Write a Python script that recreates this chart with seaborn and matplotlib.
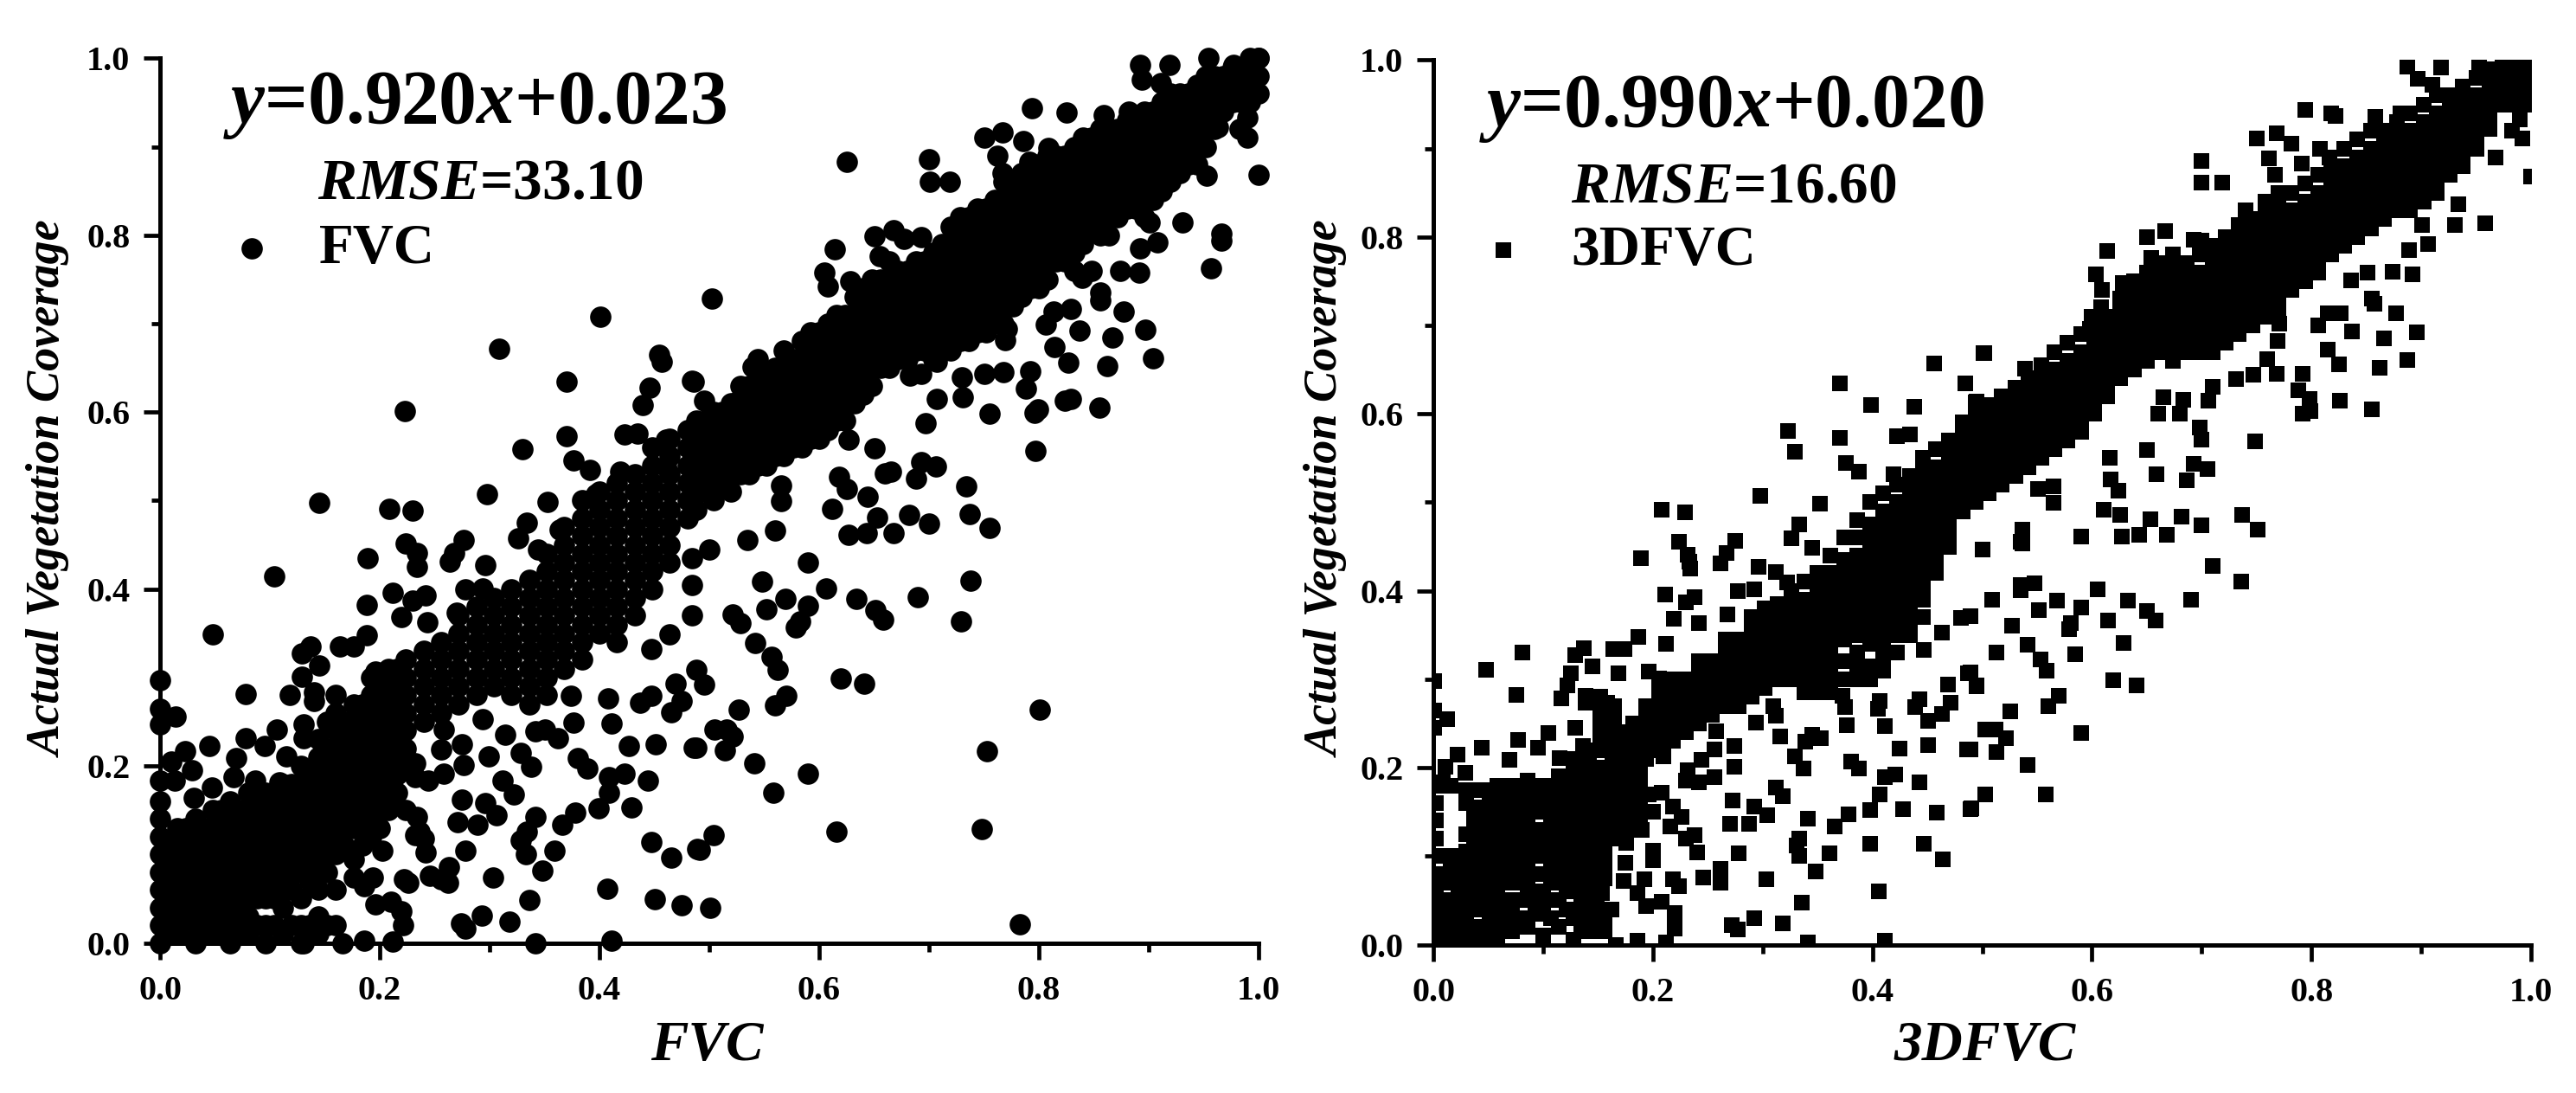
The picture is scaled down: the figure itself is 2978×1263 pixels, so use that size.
import matplotlib
matplotlib.use("Agg")
import matplotlib.pyplot as plt
import pandas as pd
import seaborn as sns
from matplotlib.ticker import FixedLocator, FormatStrFormatter

# ---- FVC panel, values
fvc_scattered_top = [
    (.401,.708),(.309,.672),(.454,.665),(.457,.657),(.370,.634),(.446,.628),(.439,.608),(.486,.634),(.223,.601),
    (.370,.573),(.330,.558),(.423,.575),(.435,.576),(.376,.545),(.391,.535),(.419,.533),(.461,.569),(.461,.539),
    (.145,.497),(.209,.491),(.230,.489),(.298,.507),(.353,.498),(.334,.475),(.326,.457),(.224,.451),(.234,.441),
    (.276,.455),(.268,.441),(.189,.435),(.344,.445),(.364,.467),(.397,.507),
]
fvc_scattered_left = [
    (.104,.414),(.234,.425),(.264,.431),(.296,.427),(.212,.396),(.242,.393),(.230,.387),(.278,.400),(.294,.401),
    (.188,.382),(.220,.368),(.243,.362),(.270,.373),(.188,.348),(.176,.335),(.164,.335),(.048,.349),(.137,.335),
    (.129,.327),(.145,.314),(.129,.301),(0,.297),(.078,.281),(.118,.280),(.140,.283),(.140,.273),(0,.265),
    (.014,.256),(0,.247),(.196,.307),(0,.183),(.023,.217),(.029,.195),(.045,.223),(.069,.209),(.078,.231),
    (.095,.223),(.106,.241),(.115,.211),(.131,.247),(.131,.231),(.013,.183),(.031,.164),(.047,.176),(.067,.187),
    (.087,.183),(.109,.181),(.010,.205),
]
fvc_scattered_mid = [
    (.408,.276),(.411,.248),(.427,.223),(.451,.225),(.488,.221),(.447,.332),(.464,.349),(.469,.293),(.437,.271),
    (.447,.279),(.465,.261),(.475,.273),(.376,.249),(.374,.279),(.294,.253),(.314,.235),(.258,.241),(.342,.239),
    (.362,.231),(.350,.241),(.328,.215),(.338,.199),(.380,.209),(.389,.197),(.299,.211),(.275,.225),(.276,.201),
    (.256,.219),(.232,.203),(.258,.191),(.232,.187),(.244,.183),(.312,.183),(.322,.168),(.409,.187),(.423,.191),
    (.409,.170),(.444,.183),(.399,.152),(.429,.153),(.378,.147),(.366,.134),(.342,.142),(.334,.126),(.328,.116),
    (.333,.100),(.359,.104),(.348,.082),(.447,.114),(.465,.096),(.489,.106),(.275,.162),(.296,.158),(.306,.144),
    (.289,.134),(.271,.136),(.278,.104),(.303,.074),
]
fvc_scattered_low = [
    (.407,.061),(.336,.048),(.450,.049),(.475,.043),(.293,.031),(.274,.022),(.278,.016),(.318,.024),(.342,0),
    (.411,.002),(.202,.104),(.222,.072),(.226,.068),(.246,.076),(.263,.086),(.262,.068),(.256,.072),(.242,.102),
    (.240,.118),(.232,.122),(.224,.150),(.210,.160),(.208,.174),(.234,.142),(.236,.126),(.176,.094),(.176,.074),
    (.186,.064),(.194,.074),(.196,.044),(.210,.046),(.220,.036),(.221,.020),(.166,0),(.186,.002),(.212,.001),(.131,0),
]
fvc_scattered_upper = [
    (1.0,1.0),(.954,1.0),(.919,.992),(.892,.992),(.977,.992),(.894,.976),(.911,.972),(.794,.944),(.825,.939),
    (.859,.936),(.882,.940),(.750,.910),(.767,.916),(.786,.906),(.762,.890),(.791,.883),(.767,.870),(.809,.899),
    (.625,.883),(.700,.886),(.701,.860),(.719,.860),(1.0,.868),(.990,.933),(.990,.910),(.983,.920),(.963,.922),
    (.953,.867),(.931,.814),(.966,.802),(.966,.794),(.957,.763),(.908,.792),(.892,.785),(.901,.814),(.874,.760),
    (.891,.758),(.839,.752),(.848,.760),(.856,.726),(.856,.735),(.877,.714),(.829,.717),(.813,.714),(.806,.699),
    (.837,.692),(.867,.684),(.897,.693),(.904,.661),(.814,.674),(.827,.656),(.862,.652),(.771,.694),(.769,.681),
    (.792,.646),(.788,.627),(.768,.645),(.750,.643),(.730,.639),(.731,.617),(.829,.615),(.824,.613),(.855,.605),
    (.799,.603),(.796,.599),(.755,.598),(.707,.615),(.797,.556),(.697,.587),(.683,.641),(.693,.643),(.707,.657),
]
fvc_scattered_lower = [
    (.627,.569),(.650,.559),(.660,.531),(.665,.533),(.693,.543),(.706,.539),(.688,.525),(.734,.516),(.737,.485),
    (.755,.469),(.618,.527),(.625,.513),(.644,.504),(.612,.491),(.653,.481),(.682,.484),(.700,.474),(.668,.463),
    (.643,.463),(.627,.461),(.560,.466),(.535,.455),(.565,.499),(.565,.517),(.495,.613),(.484,.635),(.527,.613),
    (.502,.728),(.614,.784),(.605,.758),(.608,.742),(.628,.748),(.650,.799),(.668,.806),(.677,.796),(.693,.798),
    (.655,.776),(.539,.651),(.500,.445),(.484,.435),(.590,.430),(.548,.408),(.484,.405),(.606,.401),(.569,.389),
    (.552,.377),(.590,.381),(.634,.389),(.690,.391),(.738,.409),(.651,.376),(.658,.365),(.729,.363),(.521,.371),
    (.528,.361),(.484,.370),(.583,.363),(.579,.357),(.542,.339),(.557,.323),(.562,.309),(.620,.299),(.641,.293),
    (.488,.309),(.495,.292),(.570,.279),(.560,.269),(.527,.264),(.801,.264),(.505,.241),(.516,.241),(.521,.233),
    (.486,.221),(.514,.218),(.753,.217),(.541,.203),(.590,.191),(.558,.170),(.504,.122),(.491,.105),(.616,.126),
    (.748,.129),(.501,.040),(.783,.021),
]
fvc_low_block = [
    (.000,[0,.02,.04,.06,.08,.10,.12,.14,.16]),
    (.016,[.01,.03,.05,.07,.09,.11,.13]),
    (.032,[0,.02,.04,.06,.08,.10,.12,.14]),
    (.048,[.01,.03,.05,.07,.09,.11,.13,.15]),
    (.064,[0,.02,.04,.06,.08,.10,.12,.14,.16]),
    (.080,[.01,.03,.05,.07,.09,.11,.13,.15,.17]),
    (.096,[0,.02,.05,.07,.09,.11,.13,.15,.17]),
    (.112,[.01,.04,.06,.08,.10,.12,.14,.16,.18]),
    (.128,[0,.02,.05,.08,.10,.12,.14,.16,.18,.20]),
    (.144,[.01,.03,.06,.08,.09,.11,.13,.15,.17,.19,.21,.23]),
]
fvc_low_fill = [
    (.008,[.01,.03,.05,.07,.09,.11]),
    (.024,[.01,.03,.05,.07,.09,.11,.13]),
    (.040,[.01,.03,.05,.07,.09,.11,.13]),
    (.056,[.01,.03,.05,.07,.09,.11,.13,.15]),
    (.072,[.01,.03,.05,.07,.09,.11,.13,.15]),
    (.088,[.02,.05,.07,.09,.11,.13,.15,.17]),
    (.104,[.02,.05,.07,.09,.11,.13,.15,.17]),
    (.120,[.02,.06,.08,.10,.12,.14,.16,.18]),
    (.136,[.02,.07,.09,.11,.13,.15,.17,.19]),
    (.152,[.02,.08,.10,.12,.14,.16,.18,.20,.22,.25]),
    (.168,[.11,.13,.15,.17,.19,.21,.23,.25]),
    (.184,[.11,.13,.15,.17,.19,.21,.23,.25,.27]),
    (.200,[.13,.15,.17,.19,.21,.23,.25,.27,.29]),
    (.216,[.17,.19,.21,.23,.25,.27,.29,.31]),
]
fvc_band_fill = [
    (.488,[.49,.51,.53,.55,.57,.59]),
    (.504,[.50,.52,.54,.56,.58,.60]),
    (.520,[.51,.53,.55,.57,.59,.61]),
    (.536,[.53,.55,.57,.59,.61,.63]),
    (.552,[.54,.56,.58,.60,.62,.64]),
    (.568,[.55,.57,.59,.61,.63,.65,.67]),
    (.584,[.56,.58,.60,.62,.64,.66,.68]),
    (.600,[.57,.59,.61,.63,.65,.67,.69]),
    (.616,[.59,.61,.63,.65,.67,.69,.71]),
    (.632,[.61,.63,.65,.67,.69,.71,.73]),
    (.648,[.63,.65,.67,.69,.71,.73,.75]),
    (.664,[.65,.67,.69,.71,.73,.75,.77]),
    (.680,[.66,.68,.70,.72,.74,.76]),
    (.696,[.67,.69,.71,.73,.75,.77]),
    (.712,[.67,.69,.71,.73,.75,.77,.79]),
    (.728,[.68,.70,.72,.74,.76,.78,.80,.82]),
    (.744,[.69,.71,.73,.75,.77,.79,.81,.83]),
    (.760,[.70,.72,.74,.76,.78,.80,.82,.84]),
    (.776,[.72,.74,.76,.78,.80,.82,.84,.86]),
    (.792,[.74,.76,.78,.80,.82,.84,.86,.88]),
    (.808,[.75,.77,.79,.81,.83,.85,.87,.89]),
    (.824,[.77,.79,.81,.83,.85,.87,.89]),
    (.840,[.79,.81,.83,.85,.87,.89,.91]),
    (.856,[.80,.82,.84,.86,.88,.90,.92]),
    (.872,[.82,.84,.86,.88,.90,.92]),
    (.888,[.83,.85,.87,.89,.91,.93]),
    (.904,[.84,.86,.88,.90,.92,.94]),
    (.920,[.86,.88,.90,.92,.94,.96]),
    (.936,[.88,.90,.92,.94,.96]),
    (.952,[.90,.92,.94,.96,.98]),
    (.968,[.94,.96,.98]),
    (.984,[.95,.97,.99]),
]
fvc_band = [
    (.160,[.02,.06,.10,.12,.14,.16,.18,.20,.22,.24,.26,.28]),
    (.176,[.13,.15,.17,.19,.21,.23,.25,.27]),
    (.192,[.12,.14,.16,.18,.20,.22,.24,.26,.28,.30]),
    (.208,[.15,.17,.19,.21,.23,.25,.27,.29,.31]),
    (.224,[.20,.22,.24,.26,.28,.30,.32]),
    (.240,[.25,.27,.29,.31,.33]),
    (.256,[.26,.28,.30,.32,.34]),
    (.272,[.27,.29,.31,.33,.35,.37]),
    (.288,[.28,.30,.32,.34,.36,.38]),
    (.304,[.29,.31,.33,.35,.37,.39]),
    (.320,[.28,.30,.32,.34,.36,.38,.40]),
    (.336,[.27,.29,.31,.33,.35,.37,.39,.41]),
    (.352,[.28,.30,.32,.34,.36,.38,.40,.42,.44]),
    (.368,[.31,.33,.35,.37,.39,.41,.43,.45,.47]),
    (.384,[.32,.34,.36,.38,.40,.42,.44,.46,.48,.50]),
    (.400,[.35,.37,.39,.41,.43,.45,.47,.49,.51]),
    (.416,[.34,.36,.38,.40,.42,.44,.46,.48,.50,.52]),
    (.432,[.37,.39,.41,.43,.45,.47,.49,.51,.53]),
    (.448,[.40,.42,.44,.46,.48,.50,.52,.54,.56]),
    (.464,[.43,.45,.47,.49,.51,.53,.55,.57]),
    (.480,[.48,.50,.52,.54,.56,.58]),
    (.496,[.51,.53,.55,.57,.59]),
    (.512,[.52,.54,.56,.58,.60]),
    (.528,[.53,.55,.57,.59,.61,.63]),
    (.544,[.54,.56,.58,.60,.62,.64,.66]),
    (.560,[.55,.57,.59,.61,.63,.65]),
    (.576,[.56,.58,.60,.62,.64,.66]),
    (.592,[.57,.59,.61,.63,.65,.67,.69]),
    (.608,[.58,.60,.62,.64,.66,.68,.70]),
    (.624,[.59,.61,.63,.65,.67,.69,.71]),
    (.640,[.62,.64,.66,.68,.70,.72,.74]),
    (.656,[.65,.67,.69,.71,.73,.75]),
    (.672,[.66,.68,.70,.72,.74,.76]),
    (.688,[.67,.69,.71,.73,.75,.77]),
    (.704,[.66,.68,.70,.72,.74,.76,.78]),
    (.720,[.67,.69,.71,.73,.75,.77,.79,.81]),
    (.736,[.68,.70,.72,.74,.76,.78,.80,.82]),
    (.752,[.69,.71,.73,.75,.77,.79,.81,.83]),
    (.768,[.70,.72,.74,.76,.78,.80,.82,.84,.86]),
    (.784,[.73,.75,.77,.79,.81,.83,.85,.87]),
    (.800,[.74,.76,.78,.80,.82,.84,.86,.88]),
    (.816,[.77,.79,.81,.83,.85,.87,.89]),
    (.832,[.76,.78,.80,.82,.84,.86,.88,.90]),
    (.848,[.81,.83,.85,.87,.89,.91]),
    (.864,[.80,.82,.84,.86,.88,.90,.92]),
    (.880,[.83,.85,.87,.89,.91,.93]),
    (.896,[.82,.84,.86,.88,.90,.92,.94]),
    (.912,[.85,.87,.89,.91,.93,.95]),
    (.928,[.87,.89,.91,.93,.95,.96]),
    (.944,[.88,.90,.92,.94,.96,.97]),
    (.960,[.92,.94,.96,.98]),
    (.976,[.95,.97,.99]),
    (.992,[.95,.97,.99,1.0]),
    (1.00,[.96,.98,1.0]),
]

# ---- 3DFVC panel
dfvc_scattered_top = [
    (.501,.669),(.456,.657),(.370,.634),(.485,.634),(.399,.610),(.438,.608),(.494,.613),(.323,.581),(.329,.557),
    (.370,.573),(.422,.575),(.434,.577),(.501,.583),(.376,.544),(.388,.535),(.419,.532),(.298,.507),(.208,.492),
    (.229,.489),(.352,.498),(.333,.475),(.326,.459),(.224,.455),(.232,.441),(.275,.456),(.267,.443),(.189,.437),
    (.345,.449),
]
dfvc_scattered_left = [
    (.233,.433),(.234,.425),(.262,.431),(.296,.427),(.312,.421),(.322,.409),(.211,.396),(.238,.393),(.230,.387),
    (.277,.400),(.292,.402),(.219,.368),(.242,.363),(.268,.373),(.212,.340),(.187,.348),(.174,.334),(.164,.334),
    (.081,.330),(.048,.311),(.137,.335),(.129,.327),(.145,.315),(.169,.307),(.125,.307),(.122,.293),(.076,.282),
    (.117,.278),(.139,.281),(.139,.273),(.196,.309),(.206,.301),(.001,.298),(.001,.265),(.013,.255),(.001,.245),
    (.077,.231),(.105,.239),(.095,.223),(.044,.223),(.022,.215),(.011,.201),(.069,.209),(.029,.194),(.009,.183),
    (.115,.211),(.129,.245),(.136,.225),(.158,.273),(.164,.253),(.154,.233),(.160,.263),(.158,.243),
]
dfvc_scattered_mid = [
    (.258,.241),(.294,.251),(.312,.259),(.310,.270),(.316,.235),(.345,.237),(.353,.233),(.339,.229),(.329,.213),
    (.337,.199),(.381,.207),(.388,.199),(.274,.225),(.256,.221),(.244,.209),(.274,.201),(.232,.197),(.256,.189),
    (.242,.183),(.230,.185),(.210,.213),(.411,.247),(.377,.248),(.425,.222),(.451,.226),(.486,.221),(.503,.243),
    (.373,.281),(.375,.269),(.407,.275),(.405,.267),(.443,.277),(.439,.269),(.471,.273),(.463,.261),(.451,.253),
    (.469,.294),(.487,.307),(.495,.293),(.447,.333),(.463,.353),(.481,.369),(.411,.189),(.421,.192),(.443,.183),
    (.407,.170),(.398,.152),(.428,.153),(.459,.149),(.490,.154),(.503,.170),(.378,.147),(.366,.134),(.341,.142),
    (.333,.120),(.331,.112),(.333,.100),(.361,.103),(.348,.083),(.398,.114),(.447,.114),(.464,.096),
]
dfvc_scattered_low = [
    (.406,.060),(.336,.047),(.318,.024),(.292,.030),(.272,.022),(.277,.017),(.341,.002),(.411,.004),(.166,0),
    (.186,.004),(.212,.002),(.273,.163),(.312,.178),(.318,.168),(.292,.156),(.304,.146),(.288,.136),(.270,.136),
    (.278,.103),(.303,.074),(.246,.076),(.262,.086),(.262,.070),(.200,.106),(.200,.095),(.175,.092),(.173,.072),
    (.192,.074),(.218,.074),(.224,.066),(.186,.058),(.194,.044),(.208,.048),(.220,.036),(.220,.018),(.220,.027),
    (.154,.058),(.162,.040),(.240,.104),(.230,.120),(.238,.124),(.226,.144),(.216,.134),(.208,.172),(.218,.156),
    (.196,.170),(.200,.150),(.180,.130),(.190,.130),(.170,.125),
]
dfvc_scattered_upper = [
    (.887,.993),(.918,.992),(.953,.997),(.897,.979),(.910,.972),(.794,.944),(.818,.940),(.822,.937),(.858,.936),
    (.881,.940),(.750,.911),(.768,.917),(.782,.905),(.761,.889),(.791,.883),(.767,.870),(.808,.900),(.816,.890),
    (.700,.886),(.700,.861),(.719,.861),(1.0,.868),(.990,.933),(.983,.920),(.992,.911),(.962,.922),(.968,.890),
    (.934,.837),(.931,.814),(.958,.815),(.901,.814),(.906,.792),(.889,.785),(.874,.761),(.892,.758),(.851,.760),
    (.836,.751),(.855,.730),(.857,.724),(.877,.714),(.896,.692),(.866,.685),(.887,.661),(.837,.693),(.806,.700),
    (.827,.714),(.815,.714),(.815,.673),(.825,.656),(.862,.652),(.771,.702),(.769,.682),(.760,.662),(.792,.645),
    (.768,.645),(.747,.644),(.731,.639),(.788,.627),(.798,.617),(.792,.600),(.799,.603),(.826,.615),(.855,.605),
    (.749,.569),(.710,.631),(.706,.615),(.698,.585),(.700,.571),(.683,.616),(.680,.600),(.665,.619),(.660,.600),
]
dfvc_scattered_lower = [
    (.650,.559),(.659,.532),(.693,.543),(.705,.538),(.686,.525),(.617,.526),(.624,.513),(.616,.550),(.611,.492),
    (.626,.486),(.653,.481),(.682,.484),(.700,.474),(.668,.463),(.643,.463),(.627,.461),(.737,.486),(.751,.469),
    (.590,.461),(.565,.518),(.565,.499),(.551,.515),(.535,.455),(.537,.469),(.502,.669),(.495,.614),(.526,.611),
    (.539,.651),(.614,.784),(.604,.758),(.628,.748),(.609,.740),(.608,.721),(.600,.710),(.598,.696),(.650,.800),
    (.667,.807),(.693,.797),(.700,.796),(.654,.776),(.670,.770),(.740,.830),(.758,.830),(.734,.814),(.500,.447),
    (.537,.453),(.710,.428),(.736,.410),(.535,.407),(.548,.408),(.535,.401),(.605,.402),(.509,.390),(.568,.389),
    (.552,.378),(.590,.381),(.633,.389),(.690,.390),(.650,.377),(.658,.366),(.615,.366),(.527,.361),(.581,.363),
    (.579,.357),(.489,.371),(.541,.339),(.513,.330),(.553,.322),(.559,.310),(.585,.328),(.629,.341),(.619,.299),
    (.641,.293),(.489,.308),(.495,.292),(.570,.281),(.560,.270),(.526,.264),(.503,.243),(.512,.243),(.522,.233),
    (.513,.218),(.489,.221),(.541,.203),(.590,.239),(.503,.170),(.558,.170),(.489,.153),
]
dfvc_low_block = [
    (.002,[.005,.02,.035,.05,.065,.08,.10,.12,.14,.16,.18]),
    (.016,[.005,.02,.035,.05,.07,.085,.10,.18]),
    (.030,[.01,.03,.045,.06,.075,.09,.105,.125,.16,.175]),
    (.044,[.005,.02,.04,.055,.07,.085,.105,.12,.14,.155,.175]),
    (.058,[.01,.03,.05,.065,.08,.095,.11,.13,.165,.18]),
    (.072,[.015,.035,.05,.07,.085,.10,.115,.135,.15,.165,.18]),
    (.086,[.02,.06,.075,.09,.105,.12,.14,.155,.17,.185]),
    (.100,[.01,.045,.06,.08,.10,.115,.13,.15,.165,.18]),
    (.114,[.02,.05,.07,.085,.10,.115,.13,.145,.16,.175,.19]),
    (.128,[.005,.03,.06,.08,.095,.11,.125,.15,.165,.18]),
    (.142,[.015,.03,.055,.075,.09,.105,.12,.135,.16,.175,.19]),
    (.156,[.015,.03,.075,.09,.105,.14,.155,.17,.185,.20]),
]
dfvc_low_fill = [
    (.023,[.012,.028,.062,.078]),
    (.037,[.018,.10,.115,.135,.15]),
    (.051,[.015,.035,.095,.115,.13,.145,.16]),
    (.065,[.02,.04,.10,.12,.14,.155,.17]),
    (.079,[.03,.05,.095,.125,.145,.16,.175]),
    (.093,[.035,.05,.11,.13,.15,.165]),
    (.107,[.03,.07,.09,.12,.14,.155]),
    (.121,[.04,.065,.09,.12,.135,.155,.17]),
    (.135,[.02,.045,.07,.10,.12,.14,.155,.17,.19]),
    (.149,[.045,.065,.085,.11,.125,.145,.165,.18,.195]),
    (.163,[.12,.135,.15,.165,.18,.195,.21]),
    (.176,[.115,.13,.145,.16,.175,.19,.205]),
    (.188,[.14,.155,.17,.185,.20]),
    (.128,[.195,.21]),
    (.142,[.205,.22]),
    (.152,[.22,.235,.25,.265,.28]),
    (.165,[.225,.24,.255,.27]),
]
dfvc_band = [
    (.170,[.18,.195,.21,.225,.24]),
    (.182,[.19,.205,.22,.235,.25]),
    (.194,[.21,.225,.24,.255,.27]),
    (.206,[.22,.235,.25,.265,.28,.29]),
    (.218,[.23,.245,.26,.275,.29,.30]),
    (.230,[.24,.255,.27,.285,.30]),
    (.242,[.25,.265,.28,.295,.31,.32]),
    (.254,[.26,.275,.29,.305,.32]),
    (.266,[.27,.285,.30,.315,.33,.345]),
    (.278,[.27,.285,.30,.315,.33,.345]),
    (.290,[.28,.295,.31,.325,.34,.355,.37]),
    (.302,[.29,.305,.32,.335,.35,.365,.38]),
    (.314,[.30,.315,.33,.345,.36,.37,.385]),
    (.326,[.30,.31,.325,.34,.355,.37,.385,.40]),
    (.338,[.285,.30,.315,.33,.345,.36,.375,.39,.41]),
    (.350,[.285,.30,.315,.33,.345,.36,.375,.39,.405,.42]),
    (.362,[.285,.30,.315,.33,.345,.36,.375,.39,.405,.42,.44]),
    (.374,[.30,.32,.345,.36,.375,.39,.405,.42,.435,.46]),
    (.386,[.30,.315,.33,.35,.365,.38,.395,.41,.425,.44,.46,.48]),
    (.398,[.30,.315,.34,.355,.37,.385,.40,.415,.43,.445,.46,.475,.50]),
    (.410,[.31,.325,.34,.355,.37,.385,.40,.415,.43,.445,.46,.475,.49,.51]),
    (.422,[.33,.35,.365,.38,.395,.41,.425,.44,.455,.47,.485,.50,.52]),
    (.434,[.35,.365,.38,.395,.41,.425,.44,.455,.47,.485,.50,.515,.53]),
    (.446,[.37,.39,.405,.42,.435,.45,.465,.48,.495,.51,.525,.54,.55]),
    (.458,[.42,.435,.45,.465,.48,.495,.51,.525,.54,.56]),
    (.470,[.45,.465,.48,.495,.51,.525,.54,.555,.57]),
    (.482,[.49,.505,.52,.535,.55,.565,.58,.59]),
    (.494,[.50,.515,.53,.545,.56,.575,.59,.60]),
    (.506,[.51,.525,.54,.555,.57,.585,.60,.61]),
    (.518,[.52,.535,.55,.565,.58,.595,.61,.62]),
    (.530,[.53,.545,.56,.575,.59,.605,.62,.63]),
    (.542,[.54,.555,.57,.585,.60,.615,.63,.64]),
    (.554,[.55,.565,.58,.595,.61,.625,.64,.655]),
    (.566,[.56,.575,.59,.605,.62,.635,.65,.67]),
    (.578,[.57,.585,.60,.615,.63,.645,.66,.68]),
    (.590,[.58,.595,.61,.625,.64,.655,.67,.69]),
    (.602,[.60,.615,.63,.645,.66,.675,.69,.70]),
    (.614,[.62,.635,.65,.665,.68,.695,.71]),
    (.626,[.64,.655,.67,.685,.70,.715,.73]),
    (.638,[.65,.665,.68,.695,.71,.725,.74,.75]),
    (.650,[.66,.675,.69,.705,.72,.735,.75,.76]),
    (.662,[.67,.685,.70,.715,.73,.745,.76,.77]),
    (.674,[.66,.675,.69,.705,.72,.735,.75,.765,.78]),
    (.686,[.67,.685,.70,.715,.73,.745,.76,.77]),
    (.698,[.67,.685,.70,.715,.73,.745,.76,.78]),
    (.710,[.67,.685,.70,.715,.73,.745,.76,.775,.79]),
    (.722,[.68,.695,.71,.725,.74,.755,.77,.785,.80]),
    (.734,[.69,.705,.72,.735,.75,.765,.78,.795,.81]),
    (.746,[.70,.715,.73,.745,.76,.775,.79,.805,.82]),
    (.758,[.71,.725,.74,.755,.77,.785,.80,.815,.83,.84]),
    (.770,[.72,.735,.75,.765,.78,.795,.81,.825,.84,.85]),
    (.782,[.74,.755,.77,.785,.80,.815,.83,.85]),
    (.794,[.75,.765,.78,.795,.81,.825,.84,.86]),
    (.806,[.76,.775,.79,.805,.82,.835,.85,.87]),
    (.818,[.78,.795,.81,.825,.84,.855,.87,.88]),
    (.830,[.79,.805,.82,.835,.85,.865,.88,.90]),
    (.842,[.80,.815,.83,.845,.86,.875,.89,.91]),
    (.854,[.81,.825,.84,.855,.87,.885,.90,.92]),
    (.866,[.82,.835,.85,.865,.88,.895,.91,.92]),
    (.878,[.83,.845,.86,.875,.89,.905,.92,.93]),
    (.890,[.83,.845,.86,.875,.89,.905,.92,.94]),
    (.902,[.84,.855,.87,.885,.90,.915,.93,.95]),
    (.914,[.85,.865,.88,.895,.91,.925,.94,.96]),
    (.926,[.87,.885,.90,.915,.93,.945,.96]),
    (.938,[.88,.895,.91,.925,.94,.955,.97]),
    (.950,[.90,.915,.93,.945,.96,.98]),
    (.962,[.93,.945,.96,.975,.99]),
    (.974,[.95,.965,.98,.995,1.0]),
    (.986,[.95,.965,.98,.995,1.0]),
    (.998,[.95,.965,.98,.995,1.0]),
]

ticks_major = [0.0, 0.2, 0.4, 0.6, 0.8, 1.0]
ticks_minor = [0.1, 0.3, 0.5, 0.7, 0.9]
FIG_W, FIG_H = 2978, 1263


def to_frame(scattered, columns):
    rows = []
    for group in scattered:
        rows.extend(group)
    for x, ys in columns:
        rows.extend((x, y) for y in ys)
    return pd.DataFrame(rows, columns=["x", "y"])


def make_axes(fig, left, right, top, bottom):
    return fig.add_axes([left / FIG_W, 1 - bottom / FIG_H, (right - left) / FIG_W, (bottom - top) / FIG_H])


def style_axes(ax, xlabel, label_x, label_y_base, fig):
    ax.set_xlim(0, 1)
    ax.set_ylim(0, 1)
    sns.despine(ax=ax)
    for side in ["left", "bottom"]:
        ax.spines[side].set_linewidth(3.6)
    ax.xaxis.set_major_locator(FixedLocator(ticks_major))
    ax.yaxis.set_major_locator(FixedLocator(ticks_major))
    ax.xaxis.set_minor_locator(FixedLocator(ticks_minor))
    ax.yaxis.set_minor_locator(FixedLocator(ticks_minor))
    ax.xaxis.set_major_formatter(FormatStrFormatter("%.1f"))
    ax.yaxis.set_major_formatter(FormatStrFormatter("%.1f"))
    ax.tick_params(which="major", length=14, width=3.4, labelsize=29)
    ax.tick_params(which="minor", length=7, width=3.4)
    ax.tick_params(axis="x", which="major", pad=13)
    ax.tick_params(axis="y", which="major", pad=11)
    for tick in ax.get_xticklabels() + ax.get_yticklabels():
        tick.set_fontweight("bold")
    ax.set_xlabel("")
    ax.set_ylabel("")
    fig.text(label_x / FIG_W, 1 - 1225 / FIG_H, xlabel, fontsize=47, fontweight="bold", fontstyle="italic",
             ha="center", va="baseline")
    fig.text(label_y_base / FIG_W, 1 - 565 / FIG_H, "Actual Vegetation Coverage", fontsize=39, fontweight="bold",
             fontstyle="italic", rotation=90, rotation_mode="anchor", ha="center", va="baseline")


sns.set_style("ticks")
plt.rcParams["font.family"] = ["Liberation Serif", "DejaVu Serif"]
plt.rcParams["mathtext.fontset"] = "custom"
plt.rcParams["mathtext.it"] = "Liberation Serif:italic:bold"
plt.rcParams["mathtext.rm"] = "Liberation Serif:bold"
for key in ["text.color", "axes.labelcolor", "xtick.color", "ytick.color", "axes.edgecolor"]:
    plt.rcParams[key] = "black"

fig = plt.figure(figsize=(FIG_W / 100, FIG_H / 100), dpi=100)

fvc = to_frame([fvc_scattered_top, fvc_scattered_left, fvc_scattered_mid, fvc_scattered_low, fvc_scattered_upper,
                fvc_scattered_lower], fvc_low_block + fvc_low_fill + fvc_band + fvc_band_fill)
dfvc = to_frame([dfvc_scattered_top, dfvc_scattered_left, dfvc_scattered_mid, dfvc_scattered_low, dfvc_scattered_upper,
                 dfvc_scattered_lower], dfvc_low_block + dfvc_low_fill + dfvc_band)

ax1 = make_axes(fig, 185, 1455, 67.3, 1089.5)
sns.scatterplot(data=fvc, x="x", y="y", marker="o", s=315, color="black", linewidth=0, clip_on=False, zorder=5,
                label="FVC", ax=ax1)
style_axes(ax1, "FVC", 817, 71, fig)

ax2 = make_axes(fig, 1657, 2926, 69.4, 1091.5)
sns.scatterplot(data=dfvc, x="x", y="y", marker="s", s=150, color="black", linewidth=0, zorder=5,
                label="3DFVC", ax=ax2)
style_axes(ax2, "3DFVC", 2295, 1548, fig)

legend_font = {"size": 47, "weight": "bold"}
ax1.legend(loc="upper left", bbox_to_anchor=(0.0575, 0.8136), frameon=False, prop=legend_font, borderpad=0,
           borderaxespad=0, handlelength=1, handletextpad=0.7)
ax2.legend(loc="upper left", bbox_to_anchor=(0.0380, 0.8136), frameon=False, prop=legend_font, borderpad=0,
           borderaxespad=0, handlelength=1, handletextpad=0.7)

fig.text(258 / FIG_W, 1 - 142 / FIG_H, r"$\mathit{y}$=0.920$\mathit{x}$+0.023", fontsize=63, fontweight="bold",
         ha="left", va="baseline")
fig.text(367 / FIG_W, 1 - 229 / FIG_H, r"$\mathit{RMSE}$=33.10", fontsize=48.5, fontweight="bold", ha="left",
         va="baseline")
fig.text(1710 / FIG_W, 1 - 146 / FIG_H, r"$\mathit{y}$=0.990$\mathit{x}$+0.020", fontsize=63, fontweight="bold",
         ha="left", va="baseline")
fig.text(1816 / FIG_W, 1 - 233 / FIG_H, r"$\mathit{RMSE}$=16.60", fontsize=48.5, fontweight="bold", ha="left",
         va="baseline")

fig.savefig("out.png", dpi=100, facecolor="white")
